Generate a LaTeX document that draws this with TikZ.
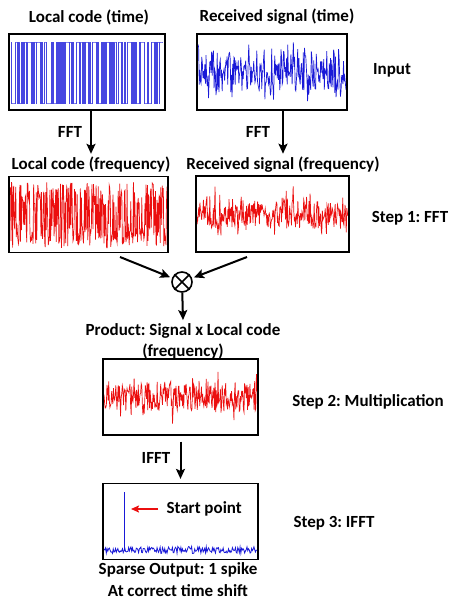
\documentclass[tikz,border=0pt]{standalone}
\usepackage{fontspec}
\setmainfont{Carlito}
\frenchspacing
\usetikzlibrary{arrows.meta}
\definecolor{codeblue}{RGB}{70,70,225}
\definecolor{sigblue}{RGB}{25,25,215}
\definecolor{specred}{RGB}{235,15,15}
\tikzset{
  sigbox/.style={draw, line width=1.2pt, minimum width=#1, minimum height=76, inner sep=0},
  lbl/.style={font=\fontsize{17}{20}\selectfont\bfseries},
  flow/.style={line width=2pt, -{Stealth[length=10pt,width=9pt,inset=2pt]}},
  redflow/.style={specred, line width=1.6pt, -{Stealth[length=8pt,width=7pt,inset=1.5pt]}}
}

\begin{document}
\begin{tikzpicture}[x=1pt, y=-1pt]
\useasboundingbox (0,0) rectangle (459,606);
%\draw[help lines] (0,0) grid[step=50] (459,606);

% signals
\pgfmathsetseed{11}
\draw[codeblue, line width=0.7pt] plot[const plot, samples=190, domain=11:163] (\x, {rand>0 ? 42 : 103});
\pgfmathsetseed{5}
\draw[sigblue, line width=0.7pt] plot[samples=240, domain=198:346] (\x, {72+21*rand+10*rand});
\pgfmathsetseed{23}
\draw[specred, line width=0.7pt] plot[samples=300, domain=10:167] (\x, {215+(rand>0 ? 1 : -1)*(8+25*rnd)});
\pgfmathsetseed{7}
\draw[specred, line width=0.7pt] plot[samples=260, domain=197:348] (\x, {214+15*rand+22*rand*rand*rand});
\pgfmathsetseed{3}
\draw[specred, line width=0.7pt] plot[samples=260, domain=104:257] (\x, {397+15*rand+22*rand*rand*rand});
\pgfmathsetseed{9}
\draw[sigblue, line width=0.8pt] plot[samples=200, domain=104:257] (\x, {550+3.5*rand});
\draw[sigblue, line width=1pt] (124,551) -- (124,492);

% boxes
\node[sigbox=156] (loctime) at (87,72) {};
\node[sigbox=150] (rxtime) at (272,72) {};
\node[sigbox=159] (locfreq) at (88.5,214.5) {};
\node[sigbox=153] (rxfreq) at (272.5,214) {};
\node[sigbox=155] (prod) at (180.5,397) {};
\node[sigbox=155] (out) at (180.5,521.5) {};

% labels
\node[lbl] (loctimelbl) at (89,17) {Local code (time)};
\node[lbl] (rxtimelbl) at (277,17) {Received signal (time)};
\node[lbl] (input) at (392,70) {Input};
\node[lbl] (locfreqlbl) at (91,165) {Local code (frequency)};
\node[lbl] (rxfreqlbl) at (283,165) {Received signal (frequency)};
\node[lbl] (step1) at (410,218) {Step 1: FFT};
\node[lbl] (prodlbl) at (183,331) {Product: Signal x Local code};
\node[lbl] (prodlbl2) at (183,352) {(frequency)};
\node[lbl] (step2) at (368,402) {Step 2: Multiplication};
\node[lbl] (step3) at (334,523) {Step 3: IFFT};
\node[lbl] (outlbl) at (178,570) {Sparse Output: 1 spike};
\node[lbl] (outlbl2) at (178,591) {At correct time shift};
\node[lbl, anchor=west] (start) at (163,509) {Start point};
\node[lbl] (fftl) at (70,132) {FFT};
\node[lbl] (fftr) at (258,132) {FFT};
\node[lbl] (ifft) at (156,458) {IFFT};

% multiplier
\node[circle, draw, line width=1.6pt, minimum size=20, inner sep=0] (mult) at (182,282) {};
\draw[line width=1.6pt] (mult.north west) -- (mult.south east)
  (mult.north east) -- (mult.south west);

% arrows
\coordinate (lfout) at (120,257);
\coordinate (rfout) at (247,257);
\coordinate (spk) at (131,509);
\draw[flow] (loctime.south -| locfreqlbl) -- (locfreqlbl.north);
\draw[flow] (rxtime.south -| rxfreqlbl) -- (rxfreqlbl.north);
\draw[flow, shorten >=2pt] (lfout) -- (mult);
\draw[flow, shorten >=2pt] (rfout) -- (mult);
\draw[flow] (mult) -- (prodlbl.north);
\draw[flow, shorten <=6pt, shorten >=4pt] (prod.south) -- (out.north);
\draw[redflow] ([xshift=-5]start.west) -- (spk);
\end{tikzpicture}
\end{document}
